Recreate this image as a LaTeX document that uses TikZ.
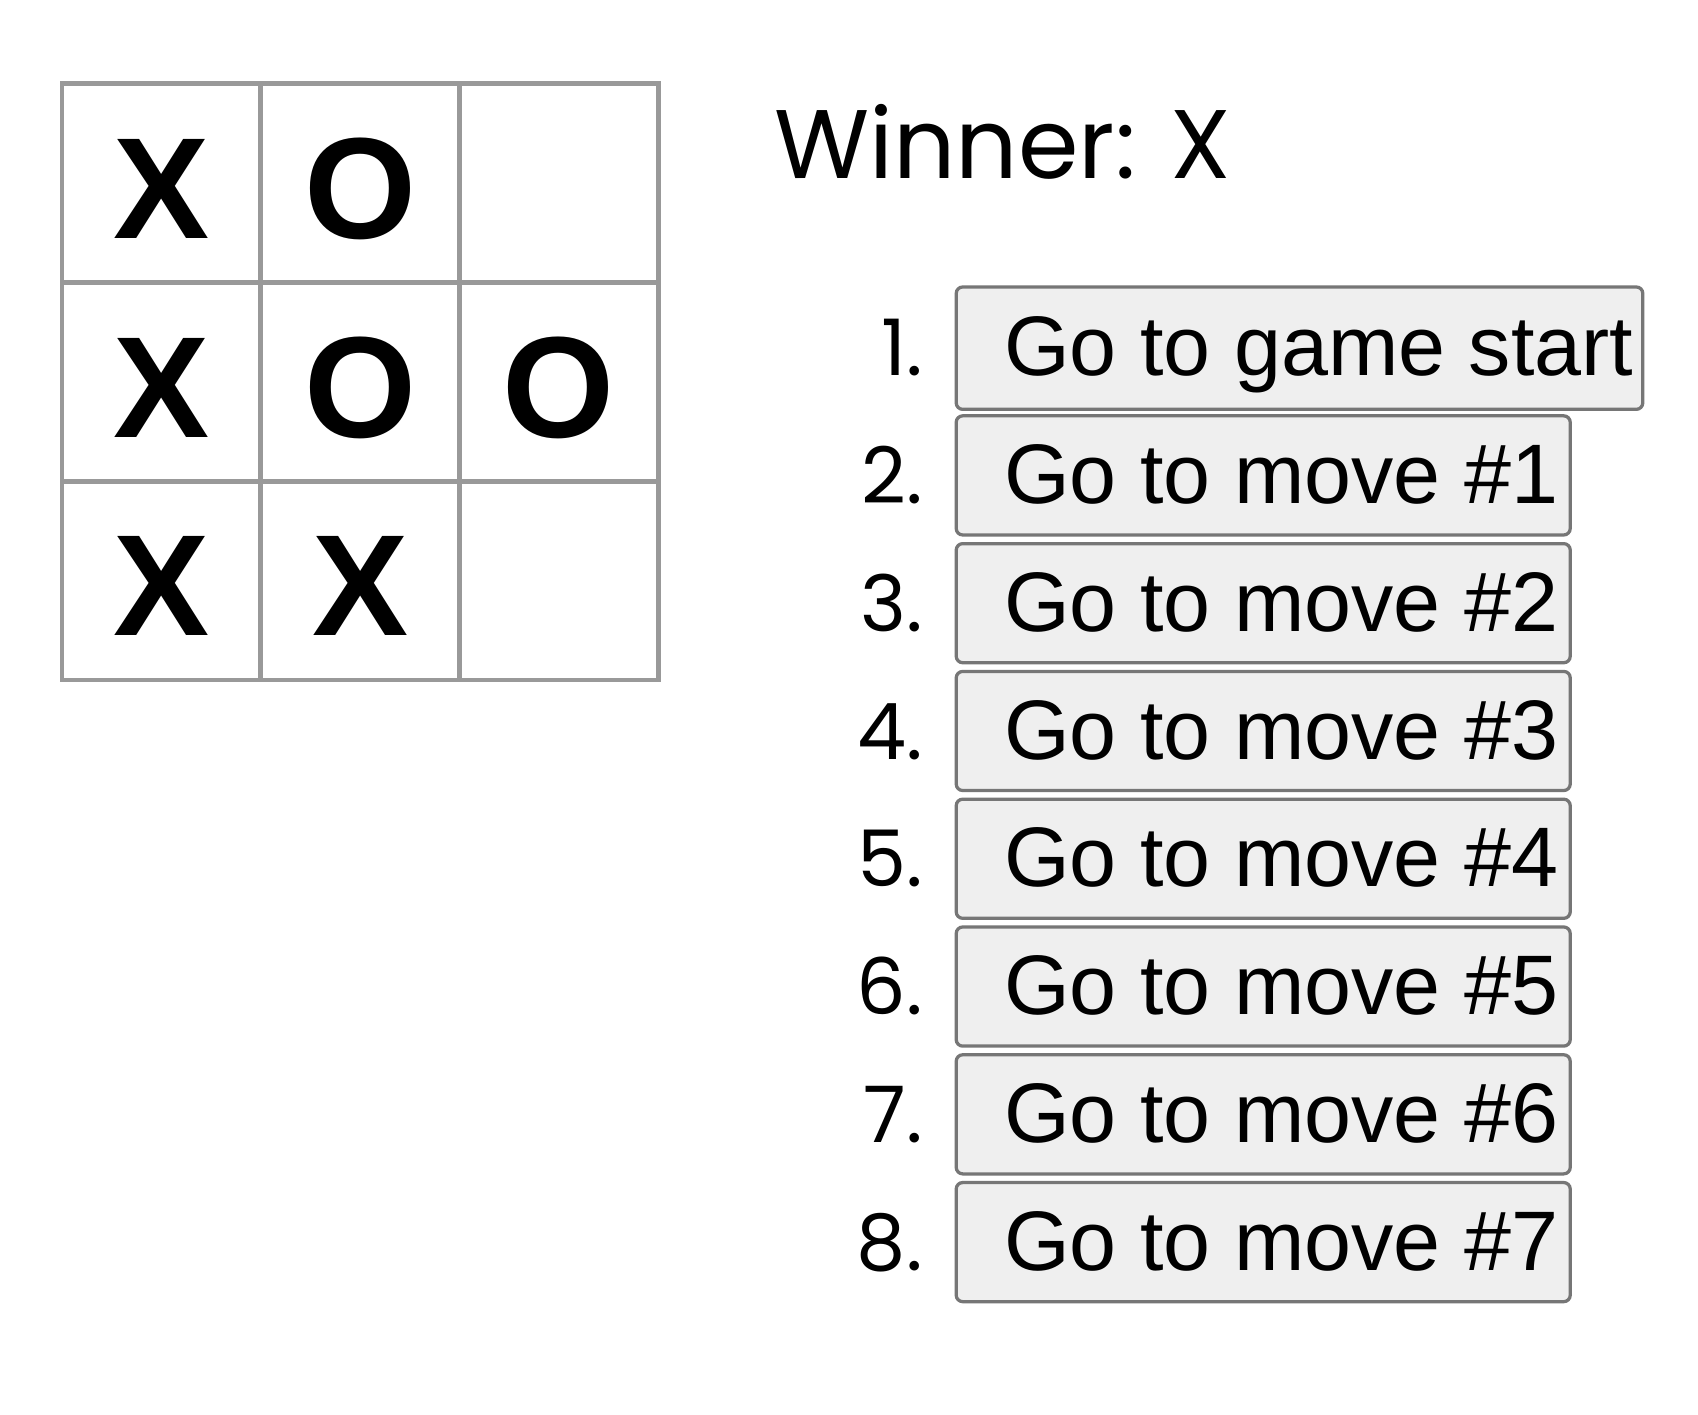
\documentclass[tikz,border=0pt]{standalone}
\usepackage{fontspec}
\setmainfont{Liberation Sans}
\newfontfamily\geo{Poppins}
\definecolor{grid}{HTML}{999999}
\definecolor{btnfill}{HTML}{EFEFEF}
\definecolor{btnline}{HTML}{767676}
\begin{document}
\begin{tikzpicture}[x=1pt,y=-1pt,
  cellmark/.style={font=\fontsize{133}{133}\selectfont\bfseries, anchor=base},
  btn/.style={draw=btnline, line width=3pt, fill=btnfill, rounded corners=6pt},
  btntext/.style={font=\fontsize{78}{78}\selectfont, anchor=base west, inner sep=0},
  num/.style={font=\geo\fontsize{72}{72}\selectfont, anchor=base east, inner sep=0}]
\useasboundingbox (0,0) rectangle (1568,1306);
\fill[white] (0,0) rectangle (1568,1306);
% board
\draw[grid, line width=4pt] (57,77) rectangle (608,628);
\foreach \v in {240.7,424.3} {
  \draw[grid, line width=4pt] (\v,77) -- (\v,628);
  \draw[grid, line width=4pt] (57,\v+20.3) -- (608,\v+20.3);
}
\node[cellmark] (c11) at (149,220) {X};
\node[cellmark] (c12) at (333,220) {O};
\node[cellmark] (c21) at (149,404) {X};
\node[cellmark] (c22) at (333,404) {O};
\node[cellmark] (c23) at (516,404) {O};
\node[cellmark] (c31) at (149,587) {X};
\node[cellmark] (c32) at (333,587) {X};
% winner
\node[font=\geo\fontsize{90}{90}\selectfont, anchor=base west, inner sep=0] (win) at (715,165) {Winner: X};
% buttons
\draw[btn] (883,265) rectangle (1517,378);
\node[btntext] (b1) at (927,347) {Go to game start};
\node[num] (n1) at (852,347) {1.};
\foreach \i/\lab in {2/1,3/2,4/3,5/4,6/5,7/6,8/7} {
  \pgfmathsetmacro{\top}{265+(\i-1)*118}
  \draw[btn] (883,\top+1) rectangle (1450,\top+111);
  \node[btntext] (b\i) at (927,\top+82) {Go to move \#\lab};
  \node[num] (n\i) at (852,\top+82) {\i.};
}
\end{tikzpicture}
\end{document}
